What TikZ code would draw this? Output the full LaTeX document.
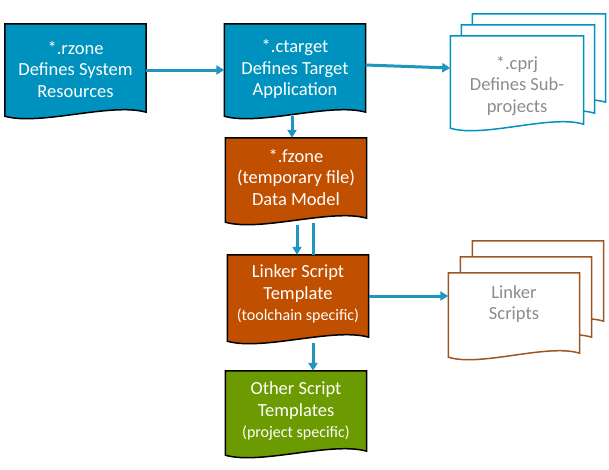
\documentclass[tikz,border=0pt]{standalone}
\usepackage{fontspec}
\setmainfont{Carlito}
\usetikzlibrary{arrows.meta,calc}
\definecolor{cblue}{HTML}{0092BE}
\definecolor{corange}{HTML}{C04F00}
\definecolor{cgreen}{HTML}{6B9B00}
\definecolor{cline}{HTML}{1E96C0}
\definecolor{cbrown}{HTML}{9C5524}
\definecolor{cgrey}{HTML}{8C8C8C}
\newcommand\docoutline[2]{%
  \draw[#2] (#1.north west) -- (#1.north east) -- ([yshift=4pt]#1.south east)
    .. controls ($(#1.south east)!0.5!(#1.south)+(0,14pt)$) and ($(#1.south west)!0.5!(#1.south)+(0,-10pt)$)
    .. ([yshift=0pt]#1.south west) -- cycle;}
\tikzset{
  body/.style={minimum width=141pt, minimum height=92pt, inner sep=0pt, draw=none},
  txt/.style={text=white, align=center, font=\fontsize{18.5}{21.5}\selectfont},
  gtxt/.style={text=cgrey, align=center, font=\fontsize{18.5}{21.5}\selectfont},
  conn/.style={draw=cline, line width=3pt, -{Triangle[length=8pt,width=9pt]}},
}
\begin{document}
\begin{tikzpicture}[x=1pt,y=-1pt]
\useasboundingbox[fill=white] (0,0) rectangle (609,469);
% bodies
\node[body] (rzone) at (75.5,70) {};
\node[body] (ctarget) at (295,70) {};
\node[body, minimum width=133pt] (cprj3) at (539,60) {};
\node[body, minimum width=133pt] (cprj2) at (528,71) {};
\node[body, minimum width=133pt] (cprj) at (517,82) {};
\node[body, minimum height=84pt] (fzone) at (296,180) {};
\node[body, minimum height=86pt] (ltpl) at (298,298) {};
\node[body, minimum height=84pt] (other) at (296,413) {};
\node[body, minimum width=131pt, minimum height=84pt] (ls3) at (538,283) {};
\node[body, minimum width=131pt, minimum height=84pt] (ls2) at (526,299) {};
\node[body, minimum width=131pt, minimum height=84pt] (ls) at (514,315) {};
% outlines
\docoutline{rzone}{fill=cblue, draw=black, line width=1.5pt}
\docoutline{ctarget}{fill=cblue, draw=black, line width=1.5pt}
\docoutline{cprj3}{fill=white, draw=cblue, line width=1.5pt}
\docoutline{cprj2}{fill=white, draw=cblue, line width=1.5pt}
\docoutline{cprj}{fill=white, draw=cblue, line width=1.5pt}
\docoutline{fzone}{fill=corange, draw=black, line width=1.5pt}
\docoutline{ltpl}{fill=corange, draw=black, line width=1.5pt}
\docoutline{other}{fill=cgreen, draw=black, line width=1.5pt}
\docoutline{ls3}{fill=white, draw=cbrown, line width=1.5pt}
\docoutline{ls2}{fill=white, draw=cbrown, line width=1.5pt}
\docoutline{ls}{fill=white, draw=cbrown, line width=1.5pt}
% texts
\node[txt] (rzonet) at (75.5,69) {*.rzone\\Defines System\\Resources};
\node[txt] (ctargett) at (295,69) {*.ctarget\\Defines Target\\Application};
\node[gtxt] (cprjt) at (517,86) {*.cprj\\Defines Sub-\\projects};
\node[txt] (fzonet) at (296,177) {*.fzone\\(temporary file)\\Data Model};
\node[txt] (ltplt) at (298,294) {Linker Script\\Template\\{\fontsize{16}{19}\selectfont(toolchain specific)}};
\node[txt] (othert) at (296,411) {Other Script\\Templates\\{\fontsize{16}{19}\selectfont(project specific)}};
\node[gtxt] (lst) at (514,304) {Linker\\Scripts};
% connectors
\draw[conn] (rzone.east |- 0,70) -- (ctarget.west |- 0,70);
\draw[conn] (ctarget.east |- 0,65) -- (cprj.west |- 0,68);
\draw[conn] (ctarget.south -| 292,0) -- (fzone.north -| 292,0);
\draw[conn] (297,225) -- (ltpl.north -| 297,0);
\draw[draw=cline, line width=3pt] (313,223) -- (ltpl.north -| 313,0);
\draw[conn] (ltpl.east |- 0,296) -- (ls.west |- 0,296);
\draw[conn] (313,343) -- (other.north -| 313,0);
\end{tikzpicture}
\end{document}
